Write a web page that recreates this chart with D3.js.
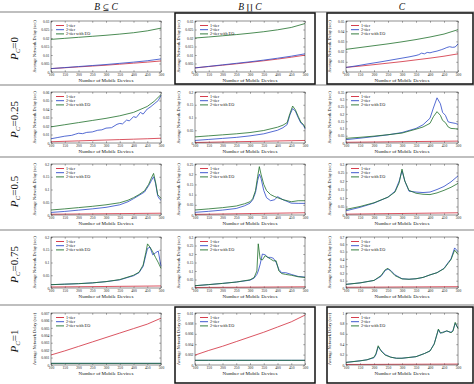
<!DOCTYPE html>
<html><head><meta charset="utf-8">
<script src="https://cdn.jsdelivr.net/npm/d3@7"></script>
<style>body{margin:0;background:#fff}svg{display:block}text{font-family:"Liberation Serif","DejaVu Serif",serif;fill:#111}</style>
</head><body><svg id="c" width="474" height="384"></svg>
<script>
const seriesNames = ["1-tier","2-tier","2-tier with EO"];
const colTitles = [["B","⊆","C"],["B","∐","C"],["","","C"]];
const rowValues = ["0","0.25","0.5","0.75","1"];
const xTicks = [100,150,200,250,300,350,400,450,500];
const yTops = [[0.03,0.03,0.05],[0.06,0.2,0.35],[0.2,0.25,0.3],[0.2,0.3,0.7],[0.007,0.01,1]];
const ySteps = [[0.005,0.005,0.01],[0.01,0.05,0.05],[0.05,0.05,0.05],[0.05,0.05,0.1],[0.001,0.002,0.2]];

const x9 = [100,150,200,250,300,350,400,450,500];
// row 1
const p11_red = [0.002,0.0025,0.003,0.0035,0.004,0.0046,0.0052,0.0058,0.0065];
const p11_blue = [0.002,0.0026,0.0032,0.0038,0.0044,0.0051,0.0058,0.0066,0.0077];
const p11_green = [0.0192,0.0198,0.0204,0.021,0.0216,0.0223,0.0231,0.0242,0.0258];
const p12_red = [0.0024,0.0032,0.004,0.0048,0.0057,0.0066,0.0076,0.0087,0.0099];
const p12_blue = [0.0024,0.0033,0.0042,0.0051,0.006,0.007,0.0081,0.0093,0.0107];
const p12_green = [0.02,0.0206,0.0213,0.022,0.0228,0.0237,0.0248,0.0262,0.0285];
const p13_red = [0.0045,0.0058,0.0072,0.0087,0.0102,0.0119,0.0136,0.0155,0.0178];
const p13_xb = [100,125,150,175,200,225,250,275,300,325,350,360,370,380,390,400,410,425,440,450,460,470,480,490,500];
const p13_blue = [0.0045,0.0055,0.0066,0.0078,0.0089,0.01,0.0112,0.0124,0.0136,0.0148,0.0162,0.017,0.0185,0.0178,0.0192,0.0188,0.0196,0.0205,0.0218,0.0228,0.024,0.0248,0.0242,0.0245,0.0275];
const p13_green = [0.0222,0.024,0.0258,0.0276,0.0296,0.0318,0.0343,0.0372,0.0415];
// row 2
const p21_red = [0.0015,0.002,0.0025,0.003,0.0035,0.004,0.0045,0.005,0.0056];
const p21_xg = [100,150,200,250,300,350,400,450,475,500];
const p21_green = [0.019,0.0215,0.024,0.0265,0.029,0.032,0.036,0.043,0.049,0.057];
const p21_xb = [100,125,150,175,190,200,215,230,250,270,285,300,320,340,350,360,375,385,400,410,425,435,450,460,475,490,500];
const p21_blue = [0.005,0.0065,0.008,0.009,0.0105,0.0115,0.011,0.0125,0.013,0.015,0.0155,0.0175,0.018,0.022,0.023,0.0225,0.027,0.026,0.031,0.03,0.036,0.034,0.04,0.042,0.046,0.05,0.056];
const p22_red = [0.002,0.003,0.004,0.005,0.006,0.007,0.008,0.009,0.01];
const p22_x = [100,150,200,250,300,350,400,420,435,445,455,465,475,485,495,500];
const p22_green = [0.024,0.028,0.032,0.036,0.041,0.049,0.062,0.07,0.08,0.115,0.145,0.13,0.105,0.082,0.072,0.06];
const p22_blue = [0.01,0.014,0.018,0.022,0.028,0.036,0.05,0.06,0.072,0.11,0.135,0.125,0.1,0.078,0.068,0.056];
const p23_red = [0.005,0.006,0.007,0.008,0.009,0.01,0.011,0.012,0.013];
const p23_x = [100,150,200,250,300,350,375,400,412,425,437,445,455,465,475,490,500];
const p23_blue = [0.023,0.033,0.044,0.056,0.072,0.1,0.125,0.17,0.24,0.31,0.27,0.21,0.19,0.145,0.14,0.135,0.128];
const p23_green = [0.032,0.039,0.047,0.057,0.068,0.095,0.11,0.135,0.18,0.215,0.19,0.155,0.14,0.11,0.1,0.098,0.095];
// row 3
const p31_red = [0.003,0.0035,0.004,0.0045,0.005,0.0055,0.006,0.0065,0.007];
const p31_x = [100,150,200,250,300,350,380,400,420,440,455,465,473,480,488,495,500];
const p31_green = [0.0196,0.024,0.029,0.034,0.04,0.048,0.058,0.068,0.08,0.095,0.12,0.145,0.163,0.13,0.08,0.072,0.065];
const p31_blue = [0.01,0.014,0.019,0.024,0.03,0.04,0.052,0.064,0.077,0.09,0.115,0.135,0.15,0.125,0.075,0.062,0.058];
const p32_red = [0.003,0.004,0.005,0.006,0.007,0.008,0.009,0.01,0.011];
const p32_x = [100,150,200,250,280,300,310,320,328,334,340,350,360,375,390,400,420,450,475,500];
const p32_green = [0.0245,0.03,0.036,0.044,0.055,0.065,0.08,0.12,0.19,0.237,0.2,0.15,0.12,0.1,0.09,0.085,0.075,0.065,0.07,0.07];
const p32_blue = [0.013,0.018,0.024,0.032,0.045,0.058,0.075,0.11,0.17,0.2,0.18,0.12,0.085,0.07,0.075,0.09,0.075,0.058,0.057,0.057];
const p33_red = [0.005,0.006,0.007,0.008,0.009,0.01,0.011,0.012,0.013];
const p33_x = [100,150,200,250,275,290,300,310,325,350,375,400,425,450,475,500];
const p33_green = [0.033,0.05,0.072,0.105,0.135,0.19,0.27,0.2,0.145,0.128,0.122,0.12,0.13,0.145,0.163,0.186];
const p33_blue = [0.025,0.045,0.07,0.105,0.14,0.2,0.26,0.2,0.14,0.135,0.132,0.135,0.15,0.168,0.195,0.23];
// row 4
const p41_red = [0.004,0.0045,0.005,0.0055,0.006,0.0065,0.007,0.0075,0.008];
const p41_x = [100,150,200,250,300,350,400,420,435,445,451,460,470,480,490,500];
const p41_green = [0.013,0.015,0.017,0.02,0.025,0.033,0.05,0.062,0.09,0.14,0.173,0.16,0.142,0.12,0.1,0.077];
const p41_blue = [0.013,0.015,0.017,0.02,0.025,0.032,0.048,0.06,0.085,0.13,0.155,0.16,0.13,0.138,0.145,0.085];
const p42_red = [0.003,0.0035,0.004,0.0045,0.005,0.0055,0.006,0.0065,0.007];
const p42_x = [100,150,200,250,300,315,325,330,337,345,355,365,375,385,395,405,415,430,450,475,500];
const p42_green = [0.0135,0.02,0.027,0.035,0.048,0.062,0.1,0.26,0.17,0.165,0.19,0.18,0.17,0.16,0.16,0.1,0.085,0.08,0.075,0.066,0.062];
const p42_blue = [0.0135,0.02,0.027,0.035,0.046,0.058,0.08,0.1,0.14,0.2,0.195,0.18,0.18,0.175,0.15,0.11,0.09,0.09,0.08,0.068,0.064];
const p43_red = [0.01,0.011,0.012,0.013,0.014,0.015,0.016,0.017,0.018];
const p43_x = [100,150,200,225,240,250,260,275,300,325,350,375,400,425,450,465,475,488,500];
const p43_blue = [0.05,0.07,0.104,0.16,0.24,0.26,0.24,0.18,0.127,0.12,0.127,0.145,0.18,0.21,0.27,0.35,0.4,0.55,0.5];
const p43_green = [0.05,0.07,0.104,0.17,0.25,0.27,0.23,0.17,0.125,0.12,0.127,0.145,0.18,0.21,0.265,0.34,0.39,0.52,0.46];
// row 5
const p51_red = [0.00135,0.0019,0.0025,0.0031,0.0037,0.0043,0.0049,0.0055,0.0063];
const p51_blue = [0.00022,0.00022,0.00022,0.00022,0.00022,0.00022,0.00022,0.00022,0.00022];
const p51_green = [0.00022,0.00022,0.00022,0.00022,0.00022,0.00022,0.00022,0.00022,0.00022];
const p52_red = [0.0019,0.0028,0.0036,0.0045,0.0054,0.0063,0.0073,0.0083,0.0096];
const p52_blue = [0.0009,0.0009,0.0009,0.0009,0.0009,0.0009,0.0009,0.0009,0.0009];
const p52_green = [0.0009,0.0009,0.0009,0.0009,0.0009,0.0009,0.0009,0.0009,0.0009];
const p53_red = [0.01,0.011,0.012,0.013,0.014,0.015,0.016,0.017,0.018];
const p53_x = [100,150,175,200,207,215,225,240,260,280,300,350,380,400,415,430,437,445,460,475,482,490,500];
const p53_green = [0.05,0.08,0.1,0.15,0.22,0.37,0.27,0.19,0.15,0.13,0.13,0.16,0.22,0.27,0.4,0.69,0.62,0.62,0.66,0.62,0.65,0.82,0.7];
const p53_blue = [0.05,0.08,0.1,0.14,0.2,0.35,0.28,0.2,0.15,0.13,0.13,0.16,0.22,0.27,0.41,0.68,0.61,0.63,0.65,0.63,0.66,0.8,0.71];

// table built from the arrays: [ [x,y] pairs for red, blue, green ]
const P = (xr, yr, xb, yb, xg, yg) => [[xr,yr],[xb,yb],[xg,yg]];
const panels = [
  [P(x9,p11_red,x9,p11_blue,x9,p11_green), P(x9,p12_red,x9,p12_blue,x9,p12_green), P(x9,p13_red,p13_xb,p13_blue,x9,p13_green)],
  [P(x9,p21_red,p21_xb,p21_blue,p21_xg,p21_green), P(x9,p22_red,p22_x,p22_blue,p22_x,p22_green), P(x9,p23_red,p23_x,p23_blue,p23_x,p23_green)],
  [P(x9,p31_red,p31_x,p31_blue,p31_x,p31_green), P(x9,p32_red,p32_x,p32_blue,p32_x,p32_green), P(x9,p33_red,p33_x,p33_blue,p33_x,p33_green)],
  [P(x9,p41_red,p41_x,p41_blue,p41_x,p41_green), P(x9,p42_red,p42_x,p42_blue,p42_x,p42_green), P(x9,p43_red,p43_x,p43_blue,p43_x,p43_green)],
  [P(x9,p51_red,x9,p51_blue,x9,p51_green), P(x9,p52_red,x9,p52_blue,x9,p52_green), P(x9,p53_red,p53_x,p53_blue,p53_x,p53_green)]
];

const colors = ["#d0293a","#2a46c8","#1e6e2a"];
const colX = [[51,161],[195,305],[346,458]];
const rowY = [[21,72],[92,143],[164,215],[237,288],[313,365]];
const sepY = [12,85,157,230,305];

const svg = d3.select("#c");
svg.append("rect").attr("width",474).attr("height",384).attr("fill","#fff");

svg.selectAll("line.sep").data(sepY).join("line").attr("class","sep")
  .attr("x1",0).attr("x2",474).attr("y1",d=>d).attr("y2",d=>d)
  .attr("stroke","#aaa").attr("stroke-width",1.6);

const frames = [[0,1],[0,2],[4,1],[4,2]];
frames.forEach(([r,c])=>{
  const x0 = c===1?175:327, x1 = c===1?315:473;
  const y0 = r===0?13:307, y1 = r===0?84:383;
  svg.append("rect").attr("x",x0).attr("y",y0).attr("width",x1-x0).attr("height",y1-y0)
    .attr("fill","none").attr("stroke","#111").attr("stroke-width",1.5);
});

// column titles
colTitles.forEach((t,c)=>{
  const tx = svg.append("text").attr("x",(colX[c][0]+colX[c][1])/2).attr("y",9.5)
    .attr("text-anchor","middle").attr("font-size",9.5);
  if (t[0]) {
    tx.append("tspan").attr("font-style","italic").text(t[0]+" ");
    tx.append("tspan").attr("font-family","DejaVu Serif").attr("font-size",8).text(t[1]);
    tx.append("tspan").attr("font-style","italic").text(" "+t[2]);
  } else {
    tx.append("tspan").attr("font-style","italic").text(t[2]);
  }
});

// row labels
rowValues.forEach((v,r)=>{
  const cy = (rowY[r][0]+rowY[r][1])/2+2;
  const t = svg.append("text").attr("transform",`translate(18,${cy}) rotate(-90)`)
    .attr("text-anchor","middle").attr("font-size",11);
  t.append("tspan").attr("font-style","italic").text("P");
  t.append("tspan").attr("font-style","italic").attr("font-size",7).attr("dy",2).text("C");
  t.append("tspan").attr("dy",-2).text("="+v);
});

const fmt = d => d===0 ? "0" : String(+d.toFixed(5));
const line = (x,y) => d3.line().x(d=>x(d[0])).y(d=>y(d[1]));

panels.forEach((row,r)=>row.forEach((series,c)=>{
  const [x0,x1] = colX[c], [y0,y1] = rowY[r];
  const top = yTops[r][c], step = ySteps[r][c];
  const yt = d3.range(0, top+step/2, step);
  const x = d3.scaleLinear([100,500],[x0,x1]);
  const y = d3.scaleLinear([0,top],[y1,y0]);
  const g = svg.append("g");
  g.append("rect").attr("x",x0).attr("y",y0).attr("width",x1-x0).attr("height",y1-y0).attr("fill","#fff");

  const ax = g.append("g").attr("transform",`translate(0,${y1})`)
    .call(d3.axisBottom(x).tickValues(xTicks).tickSize(-1.8).tickPadding(1.6).tickFormat(d3.format("d")));
  const axT = g.append("g").attr("transform",`translate(0,${y0})`)
    .call(d3.axisTop(x).tickValues(xTicks).tickSize(-1.8).tickFormat(""));
  const ay = g.append("g").attr("transform",`translate(${x0},0)`)
    .call(d3.axisLeft(y).tickValues(yt).tickSize(-1.8).tickPadding(1.6).tickFormat(fmt));
  const ayR = g.append("g").attr("transform",`translate(${x1},0)`)
    .call(d3.axisRight(y).tickValues(yt).tickSize(-1.8).tickFormat(""));
  [ax,axT,ay,ayR].forEach(a=>{
    a.select(".domain").remove();
    a.selectAll("line").attr("stroke","#333").attr("stroke-width",0.4);
    a.selectAll("text").attr("font-size",3.6).attr("font-family","Liberation Serif").attr("fill","#222");
  });

  series.forEach(([xs,ys],i)=>{
    const pts = xs.map((v,k)=>[v,ys[k]]);
    g.append("path").datum(pts).attr("d",line(x,y)).attr("fill","none")
      .attr("stroke",colors[i]).attr("stroke-width",0.8).attr("stroke-linejoin","round");
  });

  g.append("rect").attr("x",x0).attr("y",y0).attr("width",x1-x0).attr("height",y1-y0)
    .attr("fill","none").attr("stroke","#222").attr("stroke-width",0.5);

  seriesNames.forEach((n,i)=>{
    const ly = y0+4.5+i*4.2;
    g.append("line").attr("x1",x0+5).attr("x2",x0+13).attr("y1",ly).attr("y2",ly)
      .attr("stroke",colors[i]).attr("stroke-width",0.9);
    g.append("text").attr("x",x0+15).attr("y",ly).attr("dy","0.35em").attr("font-size",4.2).text(n);
  });

  g.append("text").attr("x",(x0+x1)/2).attr("y",y1+10).attr("text-anchor","middle")
    .attr("font-size",5).text("Number of Mobile Devices");
  g.append("text").attr("transform",`translate(${x0-15},${(y0+y1)/2}) rotate(-90)`)
    .attr("text-anchor","middle").attr("font-size",4.4).text("Average Network Delay (sec)");
}));
</script></body></html>
